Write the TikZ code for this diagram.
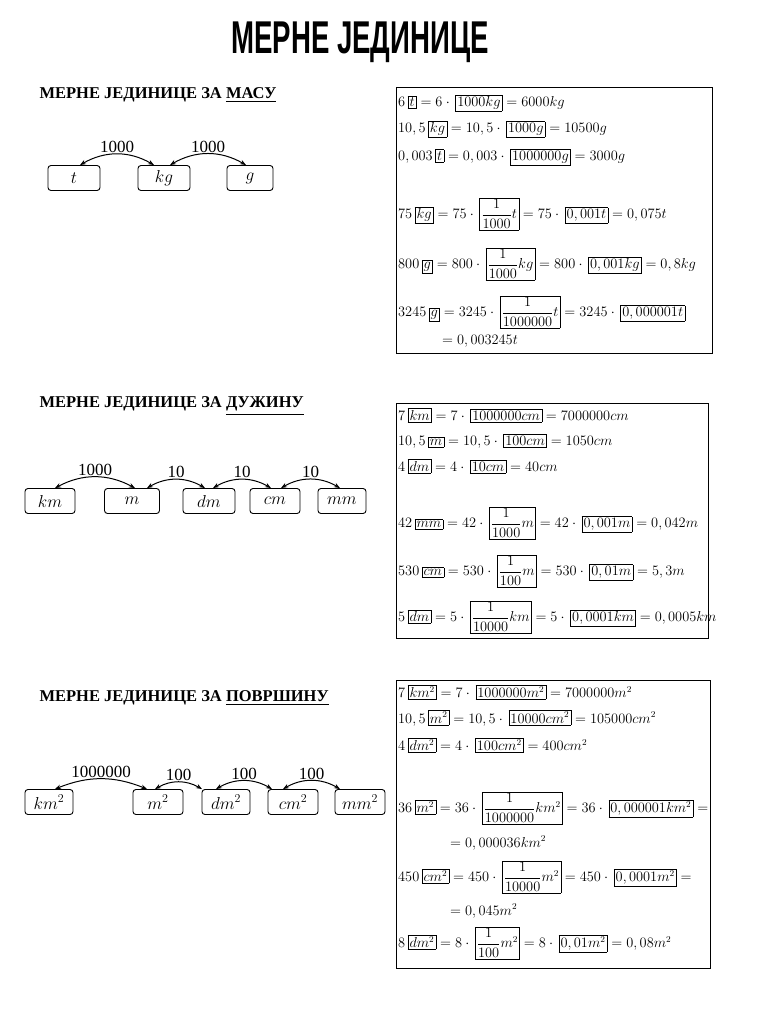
\documentclass[tikz,border=0pt]{standalone}
\usepackage{amsmath}
\usepackage{fontspec}
\setmainfont{Liberation Serif}
\setsansfont{Liberation Sans}
\usetikzlibrary{arrows.meta}
\newcommand{\bx}[1]{\,\fbox{$#1$}}
\setlength{\fboxsep}{1.5pt}
\begin{document}
\begin{tikzpicture}[x=1pt,y=-1pt,
 u/.style={draw,rounded corners=3pt,line width=0.9pt,minimum height=25pt,inner sep=0pt,font=\fontsize{17}{19}\selectfont},
 lab/.style={font=\fontsize{17}{19}\selectfont,inner sep=1pt},
 arc/.style={{Stealth[length=6pt]}-{Stealth[length=6pt]},line width=1pt},
 hd/.style={anchor=west,font=\bfseries\fontsize{16.5}{18}\selectfont},
 eq/.style={anchor=west,inner sep=0pt,font=\fontsize{13.5}{15}\selectfont},
 pan/.style={draw,line width=0.8pt}]
\useasboundingbox (0,0) rectangle (768,1024);
\node[font=\bfseries\fontsize{46}{50}\selectfont\sffamily] (title) at (360,42) {\scalebox{0.6}[1]{МЕРНЕ ЈЕДИНИЦЕ}};
% headers
\node[hd] (h1) at (36,95) {МЕРНЕ ЈЕДИНИЦЕ ЗА \underline{МАСУ}};
\node[hd] (h2) at (36,406) {МЕРНЕ ЈЕДИНИЦЕ ЗА \underline{ДУЖИНУ}};
\node[hd] (h3) at (36,698) {МЕРНЕ ЈЕДИНИЦЕ ЗА \underline{ПОВРШИНУ}};
% mass
\node[u,minimum width=52pt] (t) at (74,178) {$t$};
\node[u,minimum width=52pt] (kg) at (164,178) {$kg$};
\node[u,minimum width=46pt] (g) at (250,178) {$g$};
\draw[arc] ([xshift=6pt]t.north) to[bend left=30] node[lab,above] {1000} ([xshift=-10pt]kg.north);
\draw[arc] ([xshift=6pt]kg.north) to[bend left=30] node[lab,above] {1000} ([xshift=-4pt]g.north);
% length
\node[u,minimum width=50pt] (km) at (50,501) {$km$};
\node[u,minimum width=55pt] (m) at (132,501) {$m$};
\node[u,minimum width=52pt] (dm) at (209,501) {$dm$};
\node[u,minimum width=50pt] (cm) at (275,501) {$cm$};
\node[u,minimum width=48pt] (mm) at (342,501) {$mm$};
\draw[arc] ([xshift=5pt]km.north) to[bend left=28] node[lab,above] {1000} ([xshift=3pt]m.north);
\draw[arc] ([xshift=15pt]m.north) to[bend left=30] node[lab,above] {10} ([xshift=-4pt]dm.north);
\draw[arc] ([xshift=4pt]dm.north) to[bend left=30] node[lab,above] {10} ([xshift=-4pt]cm.north);
\draw[arc] ([xshift=6pt]cm.north) to[bend left=30] node[lab,above] {10} ([xshift=-2pt]mm.north);
% area
\node[u,minimum width=48pt] (km2) at (49,802) {$km^2$};
\node[u,minimum width=50pt] (m2) at (158,802) {$m^2$};
\node[u,minimum width=48pt] (dm2) at (226,802) {$dm^2$};
\node[u,minimum width=50pt] (cm2) at (293,802) {$cm^2$};
\node[u,minimum width=50pt] (mm2) at (360,802) {$mm^2$};
\draw[arc] ([xshift=6pt]km2.north) to[bend left=22] node[lab,above] {1000000} ([xshift=-11pt]m2.north);
\draw[arc] ([xshift=-3pt]m2.north) to[bend left=30] node[lab,above] {100} ([xshift=-24pt]dm2.north);
\draw[arc] ([xshift=-10pt]dm2.north) to[bend left=30] node[lab,above] {100} ([xshift=-21pt]cm2.north);
\draw[arc] ([xshift=-10pt]cm2.north) to[bend left=30] node[lab,above] {100} ([xshift=-20pt]mm2.north);
% panels
\draw[pan] (396,87) rectangle (712,353);
\draw[pan] (396,403) rectangle (708,638);
\draw[pan] (396,680) rectangle (710,968);
% panel 1
\node[eq] (a1) at (398,103) {$6\bx{t}=6\cdot\bx{1000kg}=6000kg$};
\node[eq] (a2) at (398,129) {$10,5\bx{kg}=10,5\cdot\bx{1000g}=10500g$};
\node[eq] (a3) at (398,157) {$0,003\bx{t}=0,003\cdot\bx{1000000g}=3000g$};
\node[eq] (a4) at (398,214) {$75\bx{kg}=75\cdot\bx{\dfrac{1}{1000}t}=75\cdot\bx{0,001t}=0,075t$};
\node[eq] (a5) at (398,264) {$800\bx{g}=800\cdot\bx{\dfrac{1}{1000}kg}=800\cdot\bx{0,001kg}=0,8kg$};
\node[eq] (a6) at (398,312) {$3245\bx{g}=3245\cdot\bx{\dfrac{1}{1000000}t}=3245\cdot\bx{0,000001t}$};
\node[eq] (a7) at (442,341) {$=0,003245t$};
% panel 2
\node[eq] (b1) at (398,415) {$7\bx{km}=7\cdot\bx{1000000cm}=7000000cm$};
\node[eq] (b2) at (398,441) {$10,5\bx{m}=10,5\cdot\bx{100cm}=1050cm$};
\node[eq] (b3) at (398,466) {$4\bx{dm}=4\cdot\bx{10cm}=40cm$};
\node[eq] (b4) at (398,523) {$42\bx{mm}=42\cdot\bx{\dfrac{1}{1000}m}=42\cdot\bx{0,001m}=0,042m$};
\node[eq] (b5) at (398,571) {$530\bx{cm}=530\cdot\bx{\dfrac{1}{100}m}=530\cdot\bx{0,01m}=5,3m$};
\node[eq] (b6) at (398,617) {$5\bx{dm}=5\cdot\bx{\dfrac{1}{10000}km}=5\cdot\bx{0,0001km}=0,0005km$};
% panel 3
\node[eq] (c1) at (398,692) {$7\bx{km^2}=7\cdot\bx{1000000m^2}=7000000m^2$};
\node[eq] (c2) at (398,718) {$10,5\bx{m^2}=10,5\cdot\bx{10000cm^2}=105000cm^2$};
\node[eq] (c3) at (398,745) {$4\bx{dm^2}=4\cdot\bx{100cm^2}=400cm^2$};
\node[eq] (c4) at (398,808) {$36\bx{m^2}=36\cdot\bx{\dfrac{1}{1000000}km^2}=36\cdot\bx{0,000001km^2}=$};
\node[eq] (c5) at (450,843) {$=0,000036km^2$};
\node[eq] (c6) at (398,877) {$450\bx{cm^2}=450\cdot\bx{\dfrac{1}{10000}m^2}=450\cdot\bx{0,0001m^2}=$};
\node[eq] (c7) at (450,911) {$=0,045m^2$};
\node[eq] (c8) at (398,943) {$8\bx{dm^2}=8\cdot\bx{\dfrac{1}{100}m^2}=8\cdot\bx{0,01m^2}=0,08m^2$};
\end{tikzpicture}
\end{document}
